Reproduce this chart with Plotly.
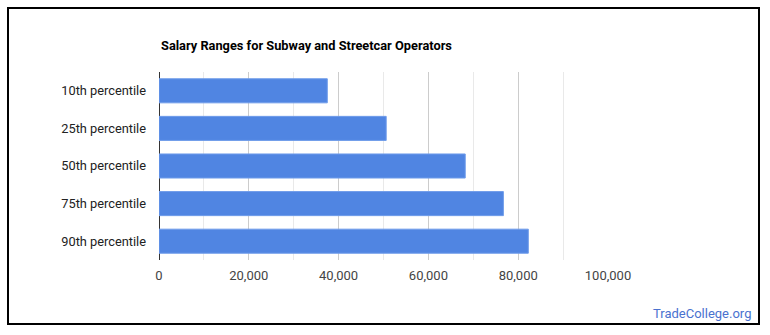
import plotly.graph_objects as go

# Salary percentiles (USD per year)
categories = ["10th percentile", "25th percentile", "50th percentile",
              "75th percentile", "90th percentile"]
salaries = [37480, 50600, 68200, 76700, 82250]
tick_values = [0, 20000, 40000, 60000, 80000, 100000]
tick_labels = ["0", "20,000", "40,000", "60,000", "80,000", "100,000"]

W, H = 770, 335
L, R, T, B = 159, 162, 72, 75
plot_w = W - L - R
plot_h = H - T - B

def px_x(px):
    return (px - L) / plot_w

def px_y(py):
    return 1 - (py - T) / plot_h

fig = go.Figure(
    go.Bar(
        x=salaries,
        y=categories,
        orientation="h",
        marker=dict(color="#5085e2", line=dict(color="#6f9cea", width=1)),
        hoverinfo="x+y",
    )
)

fig.update_layout(
    width=W,
    height=H,
    margin=dict(l=L, r=R, t=T, b=B),
    paper_bgcolor="white",
    plot_bgcolor="white",
    bargap=0.36,
    showlegend=False,
    font=dict(family="Roboto", size=13, color="#222222"),
    xaxis=dict(
        range=[0, 100000],
        tickvals=tick_values,
        ticktext=tick_labels,
        showgrid=True,
        gridcolor="#cccccc",
        gridwidth=1,
        zeroline=True,
        zerolinecolor="#333333",
        zerolinewidth=1,
        showline=False,
        ticks="",
        tickfont=dict(family="Roboto", size=13, color="#444444"),
        ticklabelstandoff=6,
        minor=dict(dtick=10000, showgrid=True, gridcolor="#e9e9e9", gridwidth=1),
        fixedrange=True,
    ),
    yaxis=dict(
        categoryorder="array",
        categoryarray=categories,
        autorange="reversed",
        showgrid=False,
        showline=False,
        ticks="",
        tickfont=dict(family="Roboto", size=12.8, color="#222222"),
        ticklabelstandoff=12,
        fixedrange=True,
    ),
    shapes=[
        dict(
            type="rect", xref="paper", yref="paper",
            x0=px_x(8), x1=px_x(759), y0=px_y(324), y1=px_y(8),
            line=dict(color="black", width=2), fillcolor="rgba(0,0,0,0)",
            layer="above",
        )
    ],
    annotations=[
        dict(
            text="<b>Salary Ranges for Subway and Streetcar Operators</b>",
            xref="paper", yref="paper", x=0, y=px_y(46),
            xanchor="left", yanchor="middle", showarrow=False,
            font=dict(family="Roboto", size=12.8, color="#000000"),
        ),
        dict(
            text="TradeCollege.org",
            xref="paper", yref="paper", x=px_x(753), y=px_y(313),
            xanchor="right", yanchor="middle", showarrow=False,
            font=dict(family="Roboto", size=13, color="#4a72cf"),
        ),
    ],
)

fig.write_html("out.html")
